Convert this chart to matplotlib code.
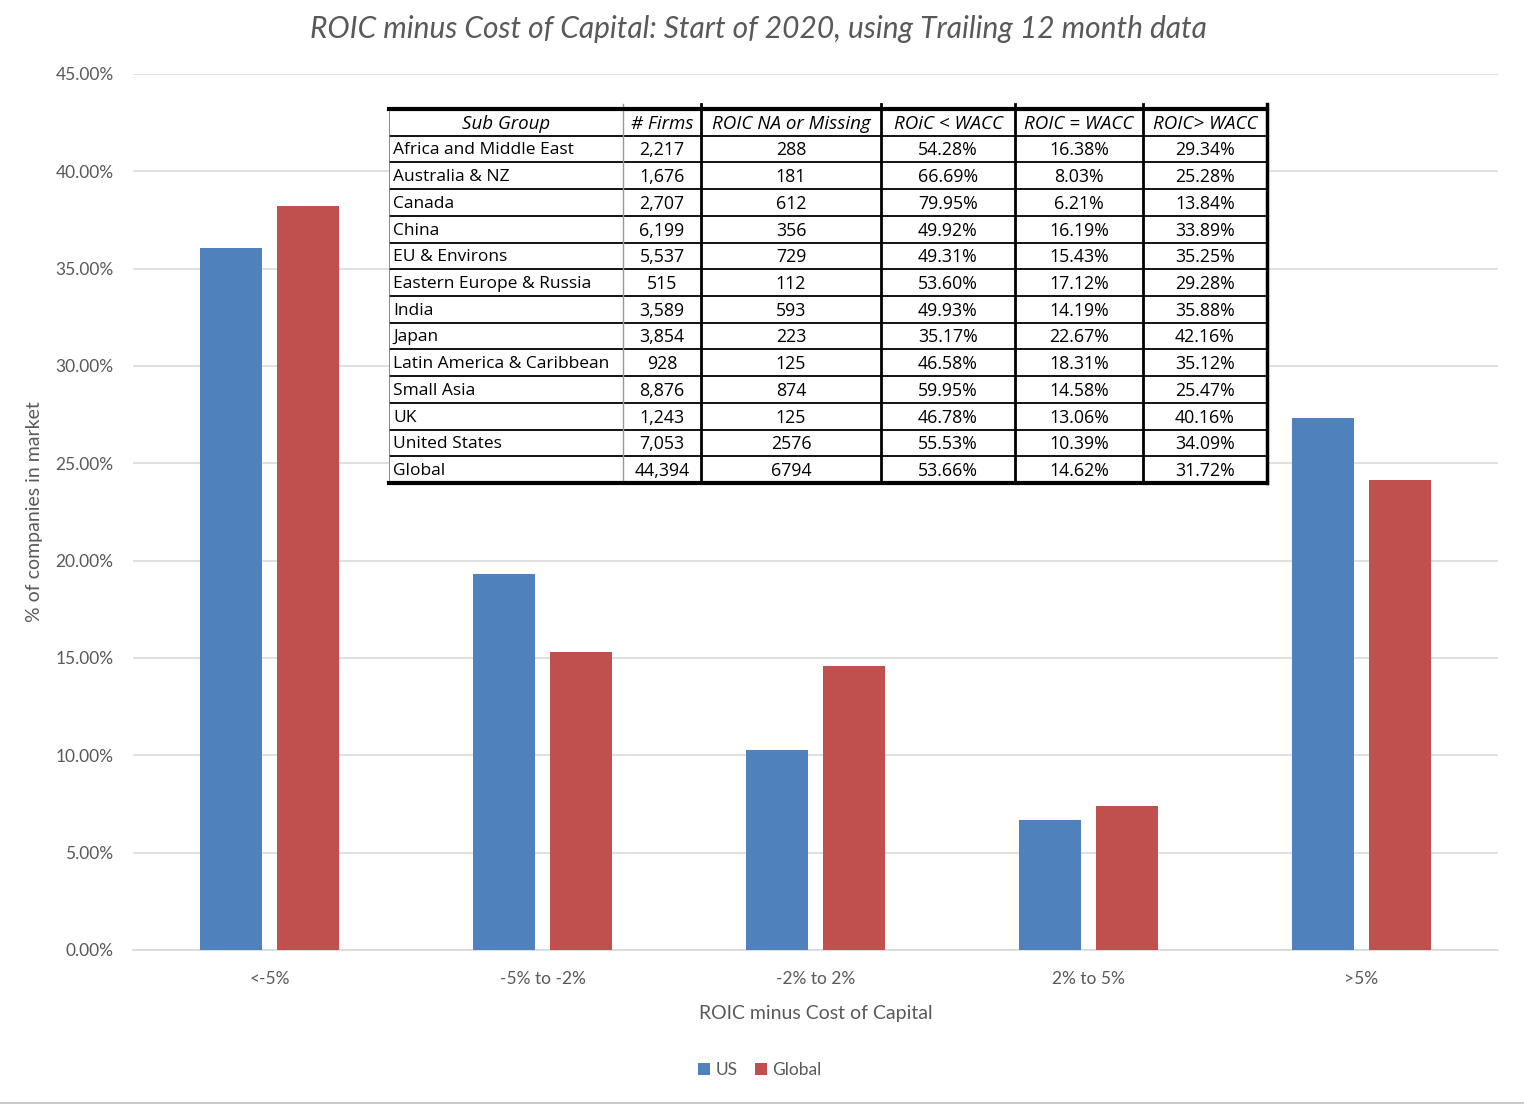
import numpy as np
import matplotlib.pyplot as plt
from matplotlib.ticker import FuncFormatter

plt.rcParams['font.family'] = ['Lato', 'DejaVu Sans']

# Bar data (share of companies in each ROIC - WACC bucket)
categories = ['<-5%', '-5% to -2%', '-2% to 2%', '2% to 5%', '>5%']
us_vals = [0.3606, 0.1931, 0.1027, 0.0668, 0.2732]
global_vals = [0.3821, 0.1531, 0.1459, 0.0740, 0.2414]

# Inset table data
table_cols = ['Sub Group', '# Firms', 'ROIC NA or Missing', 'ROiC < WACC', 'ROIC = WACC', 'ROIC> WACC']
sub_groups = ['Africa and Middle East', 'Australia & NZ', 'Canada', 'China', 'EU & Environs',
              'Eastern Europe & Russia', 'India', 'Japan', 'Latin America & Caribbean',
              'Small Asia', 'UK', 'United States', 'Global']
n_firms = ['2,217', '1,676', '2,707', '6,199', '5,537', '515', '3,589', '3,854', '928',
           '8,876', '1,243', '7,053', '44,394']
roic_na = ['288', '181', '612', '356', '729', '112', '593', '223', '125', '874', '125',
           '2576', '6794']
roic_lt = ['54.28%', '66.69%', '79.95%', '49.92%', '49.31%', '53.60%', '49.93%', '35.17%',
           '46.58%', '59.95%', '46.78%', '55.53%', '53.66%']
roic_eq = ['16.38%', '8.03%', '6.21%', '16.19%', '15.43%', '17.12%', '14.19%', '22.67%',
           '18.31%', '14.58%', '13.06%', '10.39%', '14.62%']
roic_gt = ['29.34%', '25.28%', '13.84%', '33.89%', '35.25%', '29.28%', '35.88%', '42.16%',
           '35.12%', '25.47%', '40.16%', '34.09%', '31.72%']

W, H = 1524, 1108
fig = plt.figure(figsize=(W / 100, H / 100), dpi=100)
ax = fig.add_axes([133 / W, 1 - 950 / H, (1498 - 133) / W, (950 - 74) / H])

x = np.arange(len(categories))
bw = 0.227
ax.bar(x - 0.1425, us_vals, bw, color='#4f81bd', label='US', zorder=3)
ax.bar(x + 0.1425, global_vals, bw, color='#c0504d', label='Global', zorder=3)

ax.set_xlim(-0.5, len(categories) - 0.5)
ax.set_ylim(0, 0.45)
ax.set_yticks(np.arange(0, 0.4501, 0.05))
ax.yaxis.set_major_formatter(FuncFormatter(lambda v, p: f'{v * 100:.2f}%'))
ax.set_xticks(x)
ax.set_xticklabels(categories)
ax.grid(axis='y', color='#d9d9d9', linewidth=1.2, zorder=0)
for s in ['top', 'right', 'left']:
    ax.spines[s].set_visible(False)
ax.spines['bottom'].set_color('#d9d9d9')
ax.spines['bottom'].set_linewidth(1.2)
ax.tick_params(axis='both', length=0, labelsize=12.5, colors='#595959')
ax.tick_params(axis='x', pad=15)
ax.tick_params(axis='y', pad=14)

ax.set_xlabel('ROIC minus Cost of Capital', fontsize=14, color='#595959', labelpad=13)
ax.set_ylabel('% of companies in market', fontsize=14, color='#595959', labelpad=9)
fig.text(758 / W, 1 - 29 / H, 'ROIC minus Cost of Capital: Start of 2020, using Trailing 12 month data',
         ha='center', va='center', fontsize=21.5, style='italic', color='#595959')

fig.legend(loc='center', bbox_to_anchor=(760 / W, 1 - 1070 / H), ncol=2, frameon=False,
           fontsize=12.5, labelcolor='#595959', handlelength=0.7, handleheight=0.7,
           handletextpad=0.3, columnspacing=1.0)

# bottom border of the chart frame
fig.add_artist(plt.Line2D([0, 1], [1 - 1103 / H, 1 - 1103 / H], color='#bfbfbf', linewidth=1.2))

# Inset table
col_edges = [389, 623, 701, 881, 1015, 1143, 1267]
t_top, t_bot = 109, 483
tax = fig.add_axes([col_edges[0] / W, 1 - t_bot / H, (col_edges[-1] - col_edges[0]) / W, (t_bot - t_top) / H])
tax.set_xlim(col_edges[0], col_edges[-1])
n_rows = len(sub_groups) + 1
tax.set_ylim(n_rows, 0)
tax.axis('off')
tax.add_patch(plt.Rectangle((col_edges[0], -0.2), col_edges[-1] - col_edges[0], n_rows + 0.2,
                            facecolor='white', edgecolor='none', zorder=0, clip_on=False))

for r in range(1, n_rows):
    tax.plot([col_edges[0], col_edges[-1]], [r, r], color='black', linewidth=1.3, zorder=2)
for i, c in enumerate(col_edges[1:-1]):
    lw = 1.0 if i == 0 else 2.0
    col = '#999999' if i == 0 else 'black'
    tax.plot([c, c], [-0.2, n_rows], color=col, linewidth=lw, zorder=2, clip_on=False)
tax.plot([col_edges[0], col_edges[0]], [0, n_rows], color='#777777', linewidth=1.2, zorder=3)
tax.plot([col_edges[-1], col_edges[-1]], [-0.2, n_rows], color='black', linewidth=2.5, zorder=3,
         clip_on=False)
tax.plot([col_edges[0], col_edges[-1]], [0, 0], color='black', linewidth=3, zorder=3, clip_on=False)
tax.plot([col_edges[0], col_edges[-1]], [n_rows, n_rows], color='black', linewidth=3, zorder=3,
         clip_on=False)

centers = [(col_edges[i] + col_edges[i + 1]) / 2 for i in range(len(col_edges) - 1)]
for j, name in enumerate(table_cols):
    tax.text(centers[j], 0.55, name, ha='center', va='center', fontsize=13.5, style='italic',
             color='black', family=['Open Sans', 'DejaVu Sans'], zorder=4)
columns = [n_firms, roic_na, roic_lt, roic_eq, roic_gt]
for r, name in enumerate(sub_groups):
    y = r + 1.55
    tax.text(col_edges[0] + 4, y, name, ha='left', va='center', fontsize=12.5, color='black',
             family=['Open Sans', 'DejaVu Sans'], zorder=4)
    for j, colvals in enumerate(columns):
        tax.text(centers[j + 1], y, colvals[r], ha='center', va='center', fontsize=12.8,
                 color='black', family=['Open Sans', 'DejaVu Sans'], zorder=4)

fig.savefig('out.png', dpi=100)
